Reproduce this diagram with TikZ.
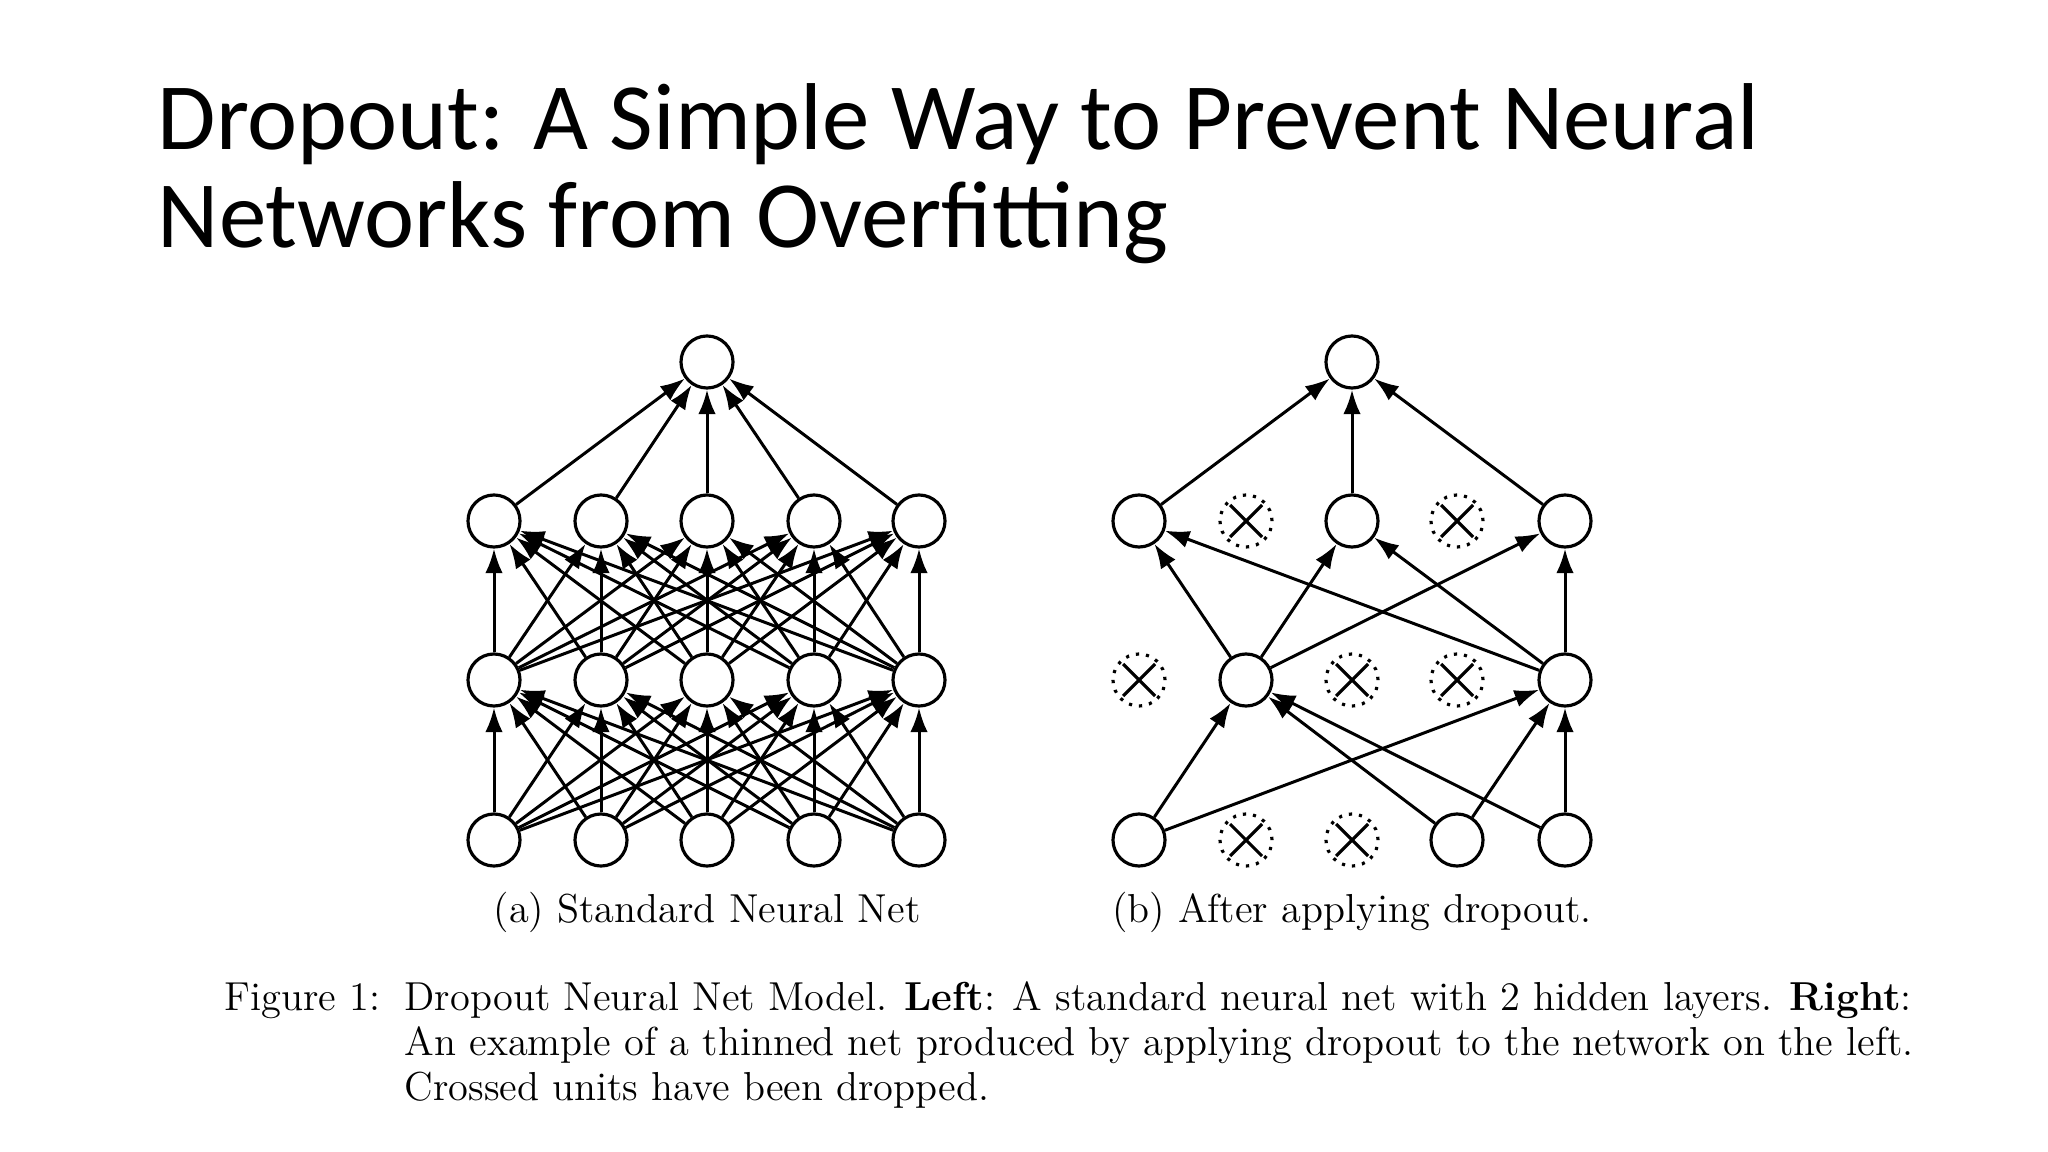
\documentclass[tikz,border=0pt]{standalone}
\usepackage{fontspec}
\newfontfamily\titlefont{Carlito}
\usetikzlibrary{arrows.meta}
\begin{document}
\begin{tikzpicture}[x=0.01cm,y=-0.01cm,
  unit/.style={circle,draw,line width=0.9pt,minimum size=0.52cm,inner sep=0pt},
  drop/.style={circle,draw,dotted,line width=0.9pt,minimum size=0.52cm,inner sep=0pt},
  conn/.style={line width=0.85pt,-{Latex[length=7pt,width=5pt]}},
  xline/.style={line width=0.9pt},
  captext/.style={font=\fontsize{11.5pt}{14pt}\selectfont,inner sep=0pt,anchor=base west}]
\useasboundingbox (0,0) rectangle (2048,1152);
% title
\node[anchor=base west,inner sep=0pt,font=\titlefont\fontsize{27pt}{32pt}\selectfont] (t1) at (157,150) {Dropout: A Simple Way to Prevent Neural};
\node[anchor=base west,inner sep=0pt,font=\titlefont\fontsize{27pt}{32pt}\selectfont] (t2) at (157,248) {Networks from Overfitting};
% left network
\foreach \c/\x in {1/494,2/601,3/707,4/814,5/919}{
  \foreach \r/\y in {1/840,2/680,3/521}{
    \node[unit] (L\r\c) at (\x,\y) {};
  }
}
\node[unit] (Ltop) at (707,362) {};
\foreach \i in {1,...,5}{
  \foreach \j in {1,...,5}{
    \draw[conn] (L1\i) -- (L2\j);
    \draw[conn] (L2\i) -- (L3\j);
  }
  \draw[conn] (L3\i) -- (Ltop);
}
% right network
\node[unit] (R11) at (1139,840) {};
\node[drop] (R12) at (1246,840) {};
\node[drop] (R13) at (1352,840) {};
\node[unit] (R14) at (1457,840) {};
\node[unit] (R15) at (1565,840) {};
\node[drop] (R21) at (1139,680) {};
\node[unit] (R22) at (1246,680) {};
\node[drop] (R23) at (1352,680) {};
\node[drop] (R24) at (1457,680) {};
\node[unit] (R25) at (1565,680) {};
\node[unit] (R31) at (1139,521) {};
\node[drop] (R32) at (1246,521) {};
\node[unit] (R33) at (1352,521) {};
\node[drop] (R34) at (1457,521) {};
\node[unit] (R35) at (1565,521) {};
\node[unit] (Rtop) at (1352,362) {};
\foreach \n in {R12,R13,R21,R23,R24,R32,R34}{
  \draw[xline] ([shift={(-16,-16)}]\n.center) -- ([shift={(16,16)}]\n.center);
  \draw[xline] ([shift={(-16,16)}]\n.center) -- ([shift={(16,-16)}]\n.center);
}
\foreach \a/\b in {R11/R22,R11/R25,R14/R22,R14/R25,R15/R22,R15/R25,
                   R22/R31,R22/R33,R22/R35,R25/R31,R25/R33,R25/R35,
                   R31/Rtop,R33/Rtop,R35/Rtop}{
  \draw[conn] (\a) -- (\b);
}
% captions
\node[font=\fontsize{11.5pt}{14pt}\selectfont,anchor=base,inner sep=0pt] (ca) at (707,922) {(a) Standard Neural Net};
\node[font=\fontsize{11.5pt}{14pt}\selectfont,anchor=base,inner sep=0pt] (cb) at (1352,922) {(b) After applying dropout.};
\node[captext] (f0) at (224,1010) {Figure 1:};
\node[captext] (f1) at (404,1010) {Dropout Neural Net Model. \textbf{Left}: A standard neural net with 2 hidden layers. \textbf{Right}:};
\node[captext] (f2) at (404,1055) {An example of a thinned net produced by applying dropout to the network on the left.};
\node[captext] (f3) at (404,1100) {Crossed units have been dropped.};
\end{tikzpicture}
\end{document}
